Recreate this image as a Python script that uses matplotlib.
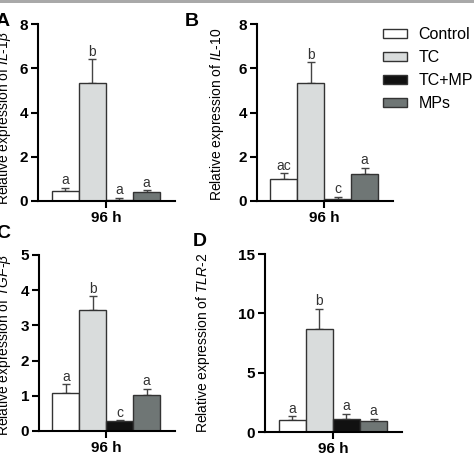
import matplotlib
matplotlib.use("Agg")
import matplotlib.pyplot as plt
from matplotlib.patches import Patch, Rectangle

plt.rcParams['font.family'] = ['Liberation Sans', 'DejaVu Sans']
plt.rcParams['mathtext.fontset'] = 'custom'
plt.rcParams['mathtext.rm'] = 'Liberation Sans'
plt.rcParams['mathtext.it'] = 'Liberation Sans:italic'

groups = ["Control", "TC", "TC+MP", "MPs"]
bar_colors = ["#ffffff", "#d9dcdc", "#111111", "#6f7675"]

il1b_mean = [0.47, 5.32, 0.05, 0.42]
il1b_err = [0.13, 1.09, 0.09, 0.08]
il1b_sig = ["a", "b", "a", "a"]

il10_mean = [0.98, 5.32, 0.09, 1.21]
il10_err = [0.27, 0.95, 0.10, 0.30]
il10_sig = ["ac", "b", "c", "a"]

tgfb_mean = [1.08, 3.43, 0.27, 1.03]
tgfb_err = [0.25, 0.40, 0.03, 0.17]
tgfb_sig = ["a", "b", "c", "a"]

tlr2_mean = [0.98, 8.65, 1.12, 0.90]
tlr2_err = [0.37, 1.75, 0.42, 0.22]
tlr2_sig = ["a", "b", "a", "a"]

W = H = 474
fig = plt.figure(figsize=(4.74, 4.74), dpi=100)

# thin grey band along the top edge
fig.patches.append(Rectangle((0, 1 - 2.5 / H), 1, 2.5 / H, transform=fig.transFigure,
                             facecolor="#a9a9a9", edgecolor="none"))


def panel(left, right, top, bottom, ymax, yticks, mean, err, sig):
    ax = fig.add_axes([left / W, (H - bottom) / H, (right - left) / W, (bottom - top) / H])
    x = range(len(groups))
    ax.bar(x, mean, width=1.0, color=bar_colors, edgecolor="#333333", linewidth=1.0, zorder=2)
    ax.errorbar(x, mean, yerr=[[0] * len(err), err], fmt="none", ecolor="#444444",
                elinewidth=1.0, capsize=3, capthick=1.0, zorder=1)
    for xi, m, e, s in zip(x, mean, err, sig):
        ax.annotate(s, (xi, m + e), xytext=(0, 0.3), textcoords="offset points",
                    ha="center", va="bottom", fontsize=10, color="#333333")
    ax.set_xlim(-1, 4.05)
    ax.set_ylim(0, ymax)
    ax.set_yticks(yticks)
    ax.set_xticks([1.5])
    ax.set_xticklabels(["96 h"], fontsize=11, fontweight="bold")
    for lab in ax.get_yticklabels():
        lab.set_fontweight("bold")
        lab.set_fontsize(11)
    ax.tick_params(axis="y", length=5, width=1.5, pad=2)
    ax.tick_params(axis="x", length=5, width=1.5, pad=2)
    ax.spines["top"].set_visible(False)
    ax.spines["right"].set_visible(False)
    ax.spines["left"].set_linewidth(1.5)
    ax.spines["bottom"].set_linewidth(1.5)
    return ax


panel(38, 175, 24, 201, 8, [0, 2, 4, 6, 8], il1b_mean, il1b_err, il1b_sig)
panel(257, 393, 24, 201, 8, [0, 2, 4, 6, 8], il10_mean, il10_err, il10_sig)
panel(39, 175, 255, 431, 5, [0, 1, 2, 3, 4, 5], tgfb_mean, tgfb_err, tgfb_sig)
panel(265, 402, 254, 432, 15, [0, 5, 10, 15], tlr2_mean, tlr2_err, tlr2_sig)

ylabels = [
    (4, 118, r"Relative expression of $\it{IL}$-$\it{1\beta}$"),
    (217, 114, r"Relative expression of $\it{IL}$-$\it{10}$"),
    (4, 345, r"Relative expression of $\it{TGF}$-$\it{\beta}$"),
    (203, 343, r"Relative expression of $\it{TLR}$-$\it{2}$"),
]
for px, py, txt in ylabels:
    fig.text(px / W, 1 - py / H, txt, rotation=90, ha="center", va="center", fontsize=10)

for px, py, letter in [(3, 21, "A"), (192, 22, "B"), (3, 234, "C"), (200, 241, "D")]:
    fig.text(px / W, 1 - py / H, letter, ha="center", va="center", fontsize=14, fontweight="bold")

handles = [Patch(facecolor=c, edgecolor="#333333", linewidth=1.0) for c in bar_colors]
fig.legend(handles, groups, loc="upper left", bbox_to_anchor=(377 / W, 1 - 21 / H),
           frameon=False, fontsize=11.5, handlelength=1.45, handleheight=0.45,
           handletextpad=0.75, labelspacing=0.5, borderaxespad=0)

fig.savefig("out.png", dpi=100)
